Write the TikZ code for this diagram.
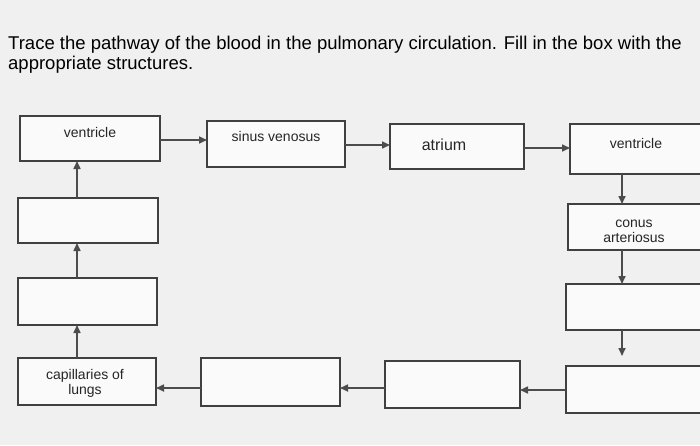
\documentclass[tikz,border=0pt]{standalone}
\usepackage{fontspec}
\setmainfont{Liberation Sans}
\usetikzlibrary{arrows.meta}
\begin{document}
\begin{tikzpicture}[x=1pt,y=-1pt,
  bx/.style={draw=black!75,line width=1.5pt,fill=white!96!gray},
  lb/.style={font=\fontsize{14}{15}\selectfont,text=black!85,align=center,inner sep=0pt},
  ar/.style={draw=black!70,line width=1.6pt,-{Triangle[length=8pt,width=7pt]}}]
\useasboundingbox (0,0) rectangle (700,445);
\fill[black!6] (0,0) rectangle (700,445);
\node[anchor=north west,align=left,inner sep=0pt,font=\fontsize{18.5}{20}\selectfont] (t) at (8,36)
 {Trace the pathway of the blood in the pulmonary circulation. Fill in the box with the\\appropriate structures.};
% boxes
\path[bx] (20,116) rectangle (160,161);
\path[bx] (207,121) rectangle (345,167); \path[bx] (390,124) rectangle (524,169);
\path[bx] (570,124) rectangle (702,174);
\path[bx] (18,198) rectangle (158,243); \path[bx] (18,278) rectangle (157,325);
\path[bx] (18,358) rectangle (156,405);
\path[bx] (568,204) rectangle (702,250); \path[bx] (566,284) rectangle (702,330);
\path[bx] (566,366) rectangle (702,413);
\path[bx] (201,358) rectangle (340,406); \path[bx] (385,361) rectangle (520,408);
% labels
\node[lb] (l1) at (90,132) {ventricle};
\node[lb] (l2) at (276,136) {sinus venosus};
\node[lb,font=\fontsize{16}{17}\selectfont] (l3) at (444,145) {atrium};
\node[lb] (l4) at (636,143) {ventricle};
\node[lb] (l5) at (634,231) {conus\\arteriosus};
\node[lb] (l6) at (85,383) {capillaries of\\lungs};
% named anchor coordinates
\coordinate (a1) at (160,140); \coordinate (a2) at (207,140);
\coordinate (a3) at (345,145); \coordinate (a4) at (390,145);
\coordinate (a5) at (524,148); \coordinate (a6) at (570,148);
\coordinate (d1) at (622,174); \coordinate (d2) at (622,204);
\coordinate (d3) at (622,250); \coordinate (d4) at (622,284);
\coordinate (d5) at (622,330); \coordinate (d6) at (622,356);
\coordinate (h1) at (566,390); \coordinate (h2) at (520,390);
\coordinate (h3) at (385,388); \coordinate (h4) at (340,388);
\coordinate (h5) at (201,388); \coordinate (h6) at (156,388);
\coordinate (u1) at (77,358); \coordinate (u2) at (77,325);
\coordinate (u3) at (77,278); \coordinate (u4) at (77,243);
\coordinate (u5) at (77,198); \coordinate (u6) at (77,161);
\draw[ar] (a1)--(a2); \draw[ar] (a3)--(a4); \draw[ar] (a5)--(a6);
\draw[ar] (d1)--(d2); \draw[ar] (d3)--(d4); \draw[ar] (d5)--(d6);
\draw[ar] (h1)--(h2); \draw[ar] (h3)--(h4); \draw[ar] (h5)--(h6);
\draw[ar] (u1)--(u2); \draw[ar] (u3)--(u4); \draw[ar] (u5)--(u6);
\end{tikzpicture}
\end{document}
